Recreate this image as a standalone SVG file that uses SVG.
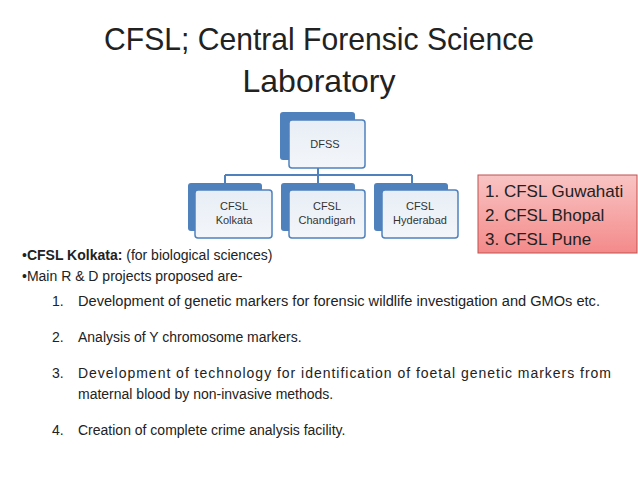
<svg xmlns="http://www.w3.org/2000/svg" width="638" height="478" viewBox="0 0 638 478">
<defs>
<linearGradient id="rg" x1="0" y1="0" x2="0" y2="1"><stop offset="0" stop-color="#f9c4c4"/><stop offset="1" stop-color="#f48a8a"/></linearGradient>
<linearGradient id="wg" x1="0" y1="0" x2="0" y2="1"><stop offset="0" stop-color="#e8eef6"/><stop offset="1" stop-color="#f3f6fa"/></linearGradient>
</defs>
<style>
text{font-family:"Liberation Sans",Arial,sans-serif;fill:#222}
.back{fill:#4f81bd}
.front{fill:url(#wg);stroke:#4f81bd;stroke-width:1.5}
.nt{font-size:11px;text-anchor:middle;fill:#333}
.b{font-size:14px}
.conn{stroke:#4f81bd;stroke-width:2;fill:none}
</style>
<rect width="638" height="478" fill="#fff"/>
<text x="319" y="50" font-size="32" text-anchor="middle" textLength="430" lengthAdjust="spacingAndGlyphs">CFSL; Central Forensic Science</text>
<text x="319" y="92" font-size="32" text-anchor="middle">Laboratory</text>
<g id="connectors">
<path class="conn" d="M318 168V175M225 175H412M225 175V184M318 175V184M412 175V184"/>
</g>
<g id="dfss"><rect class="back" x="280" y="112" width="75" height="48" rx="3"/><rect class="front" x="289" y="120" width="76" height="48" rx="3"/><text class="nt" x="325" y="148">DFSS</text></g>
<g id="kolkata"><rect class="back" x="188" y="183" width="74" height="48" rx="3"/><rect class="front" x="195" y="190" width="77" height="48" rx="3"/><text class="nt" x="234" y="210">CFSL</text><text class="nt" x="234" y="224">Kolkata</text></g>
<g id="chandigarh"><rect class="back" x="281" y="183" width="74" height="48" rx="3"/><rect class="front" x="289" y="190" width="76" height="48" rx="3"/><text class="nt" x="327" y="210">CFSL</text><text class="nt" x="327" y="224">Chandigarh</text></g>
<g id="hyderabad"><rect class="back" x="374" y="183" width="74" height="48" rx="3"/><rect class="front" x="382" y="190" width="76" height="48" rx="3"/><text class="nt" x="420" y="210">CFSL</text><text class="nt" x="420" y="224">Hyderabad</text></g>
<g id="list"><rect x="478" y="175" width="159" height="78" fill="url(#rg)" stroke="#c0504d" stroke-width="1"/>
<text x="485" y="197" font-size="17">1.  CFSL Guwahati</text>
<text x="485" y="221" font-size="17">2.  CFSL Bhopal</text>
<text x="485" y="245" font-size="17">3.  CFSL Pune</text></g>
<text class="b" x="22" y="260">•<tspan font-weight="bold">CFSL Kolkata:</tspan> (for biological sciences)</text>
<text class="b" x="22" y="281">•Main R &amp; D projects proposed are-</text>
<text class="b" x="52" y="306">1.</text><text class="b" x="78" y="306" textLength="522" lengthAdjust="spacingAndGlyphs">Development of genetic markers for forensic wildlife investigation and GMOs etc.</text>
<text class="b" x="52" y="342">2.</text><text class="b" x="78" y="342">Analysis of Y chromosome markers.</text>
<text class="b" x="52" y="378">3.</text><text class="b" x="78" y="378" textLength="533" lengthAdjust="spacing">Development of technology for identification of foetal genetic markers from</text>
<text class="b" x="78" y="399">maternal blood by non-invasive methods.</text>
<text class="b" x="52" y="435">4.</text><text class="b" x="78" y="435">Creation of complete crime analysis facility.</text>
</svg>
